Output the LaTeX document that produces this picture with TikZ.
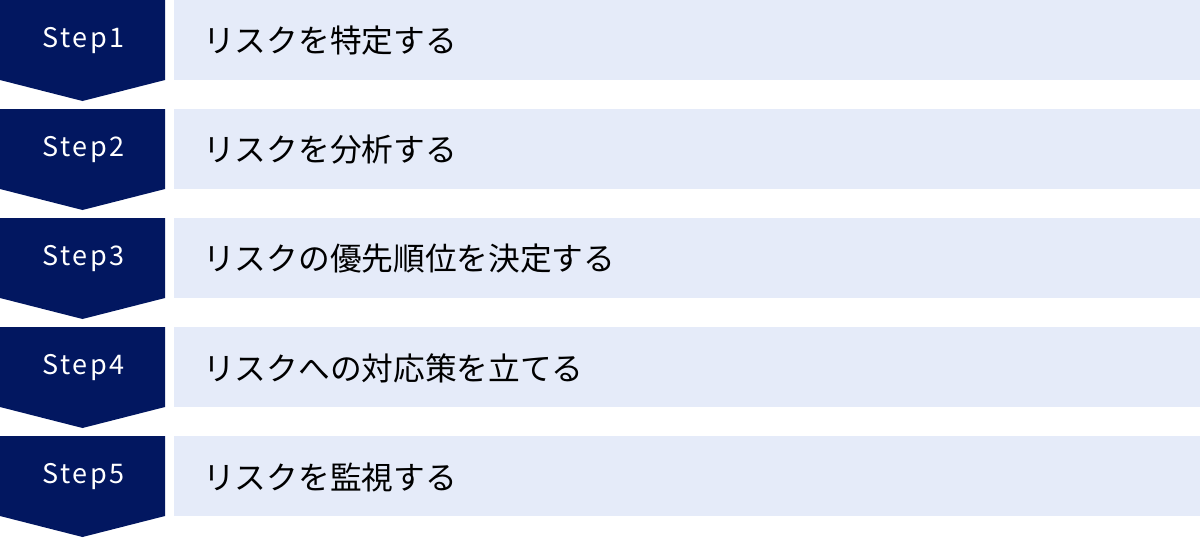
\documentclass[tikz,border=0pt]{standalone}
\usepackage{fontspec}
\setmainfont{Noto Sans CJK JP}
\newfontfamily\stepfont[LetterSpace=9]{Noto Sans CJK JP}
\definecolor{navy}{RGB}{2,23,96}
\definecolor{paleblue}{RGB}{229,235,249}
\tikzset{
  steplabel/.style={text=white, inner sep=0pt, font=\stepfont\fontsize{27}{27}\selectfont},
  tasklabel/.style={anchor=west, inner sep=0pt, font=\fontsize{31.7}{31.7}\selectfont}
}
\begin{document}
\begin{tikzpicture}[x=1pt, y=-1pt]
    \useasboundingbox (0,0) rectangle (1200,538);
    \foreach \i/\task in {1/リスクを特定する, 2/リスクを分析する, 3/リスクの優先順位を決定する,
                          4/リスクへの対応策を立てる, 5/リスクを監視する} {
        \pgfmathsetmacro{\ytop}{(\i-1)*109}
        \fill[navy] (0,\ytop) -- (165,\ytop) -- (165,\ytop+80) -- (82.5,\ytop+101) -- (0,\ytop+80) -- cycle;
        \fill[paleblue] (174,\ytop) rectangle (1200,\ytop+80);
        \node[steplabel] (step\i) at (83.5,\ytop+41) {Step\i};
        \node[tasklabel] (task\i) at (203,\ytop+41) {\task};
    }
\end{tikzpicture}
\end{document}
